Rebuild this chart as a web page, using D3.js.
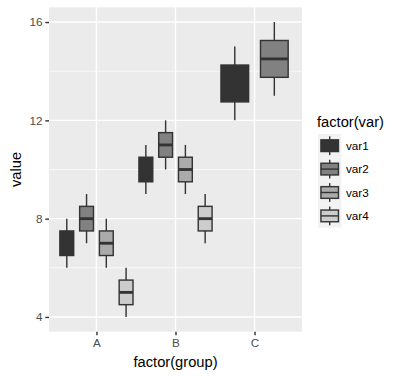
<!DOCTYPE html>
<html><head><meta charset="utf-8">
<script src="https://cdn.jsdelivr.net/npm/d3@7"></script>
<style>html,body{margin:0;padding:0;background:#fff;} svg{display:block;font-family:"Liberation Sans",Arial,sans-serif;}</style>
</head><body>
<script>
// ---- data ----
const groups = ["A", "B", "C"];
const vars = ["var1", "var2", "var3", "var4"];
const fills = ["#333333", "#818181", "#ABABAB", "#CCCCCC"];
const boxGroup  = ["A","A","A","A","B","B","B","B","C","C"];
const boxVar    = ["var1","var2","var3","var4","var1","var2","var3","var4","var1","var2"];
const boxMin    = [6, 7, 6, 4, 9, 10, 9, 7, 12, 13];
const boxQ1     = [6.5, 7.5, 6.5, 4.5, 9.5, 10.5, 9.5, 7.5, 12.75, 13.75];
const boxMedian = [7, 8, 7, 5, 10, 11, 10, 8, 13.5, 14.5];
const boxQ3     = [7.5, 8.5, 7.5, 5.5, 10.5, 11.5, 10.5, 8.5, 14.25, 15.25];
const boxMax    = [8, 9, 8, 6, 11, 12, 11, 9, 15, 16];
const yMajor = [4, 8, 12, 16];
const yMinor = [6, 10, 14];

const W = 410, H = 377;
const panel = {left: 49, top: 7.3, right: 302, bottom: 331.7};

const svg = d3.select("body").append("svg").attr("width", W).attr("height", H);
svg.append("rect").attr("width", W).attr("height", H).attr("fill", "#fff");

const x = d3.scaleLinear().domain([0.4, 3.6]).range([panel.left, panel.right]);
const y = d3.scaleLinear().domain([3.4, 16.6]).range([panel.bottom, panel.top]);
const gx = g => x(groups.indexOf(g) + 1);

// panel
svg.append("rect").attr("x", panel.left).attr("y", panel.top)
  .attr("width", panel.right - panel.left).attr("height", panel.bottom - panel.top)
  .attr("fill", "#EBEBEB");
svg.append("g").selectAll("line").data(yMinor).join("line")
  .attr("x1", panel.left).attr("x2", panel.right)
  .attr("y1", d => y(d)).attr("y2", d => y(d))
  .attr("stroke", "#fff").attr("stroke-width", 0.71);
svg.append("g").selectAll("line").data(yMajor).join("line")
  .attr("x1", panel.left).attr("x2", panel.right)
  .attr("y1", d => y(d)).attr("y2", d => y(d))
  .attr("stroke", "#fff").attr("stroke-width", 1.42);
svg.append("g").selectAll("line").data(groups).join("line")
  .attr("y1", panel.top).attr("y2", panel.bottom)
  .attr("x1", d => gx(d)).attr("x2", d => gx(d))
  .attr("stroke", "#fff").attr("stroke-width", 1.42);

// boxes
const boxes = boxGroup.map((g, i) => ({g, v: boxVar[i], min: boxMin[i], q1: boxQ1[i], med: boxMedian[i], q3: boxQ3[i], max: boxMax[i]}));
const unit = x(2) - x(1);
boxes.forEach(b => {
  const inGroup = boxes.filter(o => o.g === b.g);
  const n = inGroup.length;
  const k = inGroup.indexOf(b);
  const slot = unit / n;
  const cx = gx(b.g) - unit / 2 + slot * (k + 0.5);
  const bw = slot * 0.7;
  const fill = fills[vars.indexOf(b.v)];
  const g = svg.append("g");
  g.append("line").attr("x1", cx).attr("x2", cx).attr("y1", y(b.max)).attr("y2", y(b.q3))
    .attr("stroke", "#333333").attr("stroke-width", 1.42);
  g.append("line").attr("x1", cx).attr("x2", cx).attr("y1", y(b.q1)).attr("y2", y(b.min))
    .attr("stroke", "#333333").attr("stroke-width", 1.42);
  g.append("rect").attr("x", cx - bw / 2).attr("y", y(b.q3))
    .attr("width", bw).attr("height", y(b.q1) - y(b.q3))
    .attr("fill", fill).attr("stroke", "#333333").attr("stroke-width", 1.42);
  g.append("line").attr("x1", cx - bw / 2).attr("x2", cx + bw / 2).attr("y1", y(b.med)).attr("y2", y(b.med))
    .attr("stroke", "#333333").attr("stroke-width", 2.85);
});

// axes
const yAxis = d3.axisLeft(y).tickValues(yMajor).tickSize(3.67).tickPadding(2.9).tickFormat(d3.format("d"));
const ya = svg.append("g").attr("transform", `translate(${panel.left},0)`).call(yAxis);
const xAxis = d3.axisBottom(x).tickValues([1, 2, 3]).tickSize(3.67).tickPadding(2.9).tickFormat(d => groups[d - 1]);
const xa = svg.append("g").attr("transform", `translate(0,${panel.bottom})`).call(xAxis);
[ya, xa].forEach(a => {
  a.select(".domain").remove();
  a.selectAll(".tick line").attr("stroke", "#333333").attr("stroke-width", 1.42);
  a.selectAll(".tick text").attr("fill", "#4D4D4D").attr("font-size", "11.7px")
    .attr("font-family", "Liberation Sans, Arial, sans-serif");
});

svg.append("text").attr("x", (panel.left + panel.right) / 2).attr("y", 367)
  .attr("text-anchor", "middle").attr("font-size", "14.7px").attr("fill", "#000")
  .text("factor(group)");
svg.append("text").attr("transform", `translate(21,${(panel.top + panel.bottom) / 2}) rotate(-90)`)
  .attr("text-anchor", "middle").attr("font-size", "14.7px").attr("fill", "#000")
  .text("value");

// legend
const lg = svg.append("g");
lg.append("text").attr("x", 317).attr("y", 127).attr("font-size", "14.7px").attr("fill", "#000").text("factor(var)");
const keyX = 318, keyY0 = 134, ks = 23.4;
vars.forEach((v, i) => {
  const ky = keyY0 + i * ks;
  const g = lg.append("g");
  g.append("rect").attr("x", keyX).attr("y", ky).attr("width", ks).attr("height", ks).attr("fill", "#F2F2F2");
  const cx = keyX + ks / 2;
  g.append("line").attr("x1", cx).attr("x2", cx).attr("y1", ky + ks * 0.1).attr("y2", ky + ks * 0.25)
    .attr("stroke", "#333333").attr("stroke-width", 1.42);
  g.append("line").attr("x1", cx).attr("x2", cx).attr("y1", ky + ks * 0.75).attr("y2", ky + ks * 0.9)
    .attr("stroke", "#333333").attr("stroke-width", 1.42);
  g.append("rect").attr("x", keyX + ks * 0.125).attr("y", ky + ks * 0.25)
    .attr("width", ks * 0.75).attr("height", ks * 0.5)
    .attr("fill", fills[i]).attr("stroke", "#333333").attr("stroke-width", 1.42);
  g.append("line").attr("x1", keyX + ks * 0.125).attr("x2", keyX + ks * 0.875)
    .attr("y1", ky + ks / 2).attr("y2", ky + ks / 2)
    .attr("stroke", "#333333").attr("stroke-width", 1.42);
  g.append("text").attr("x", keyX + ks + 4.5).attr("y", ky + ks / 2).attr("dy", "0.35em")
    .attr("font-size", "11.7px").attr("fill", "#000").text(v);
});
</script>
</body></html>
